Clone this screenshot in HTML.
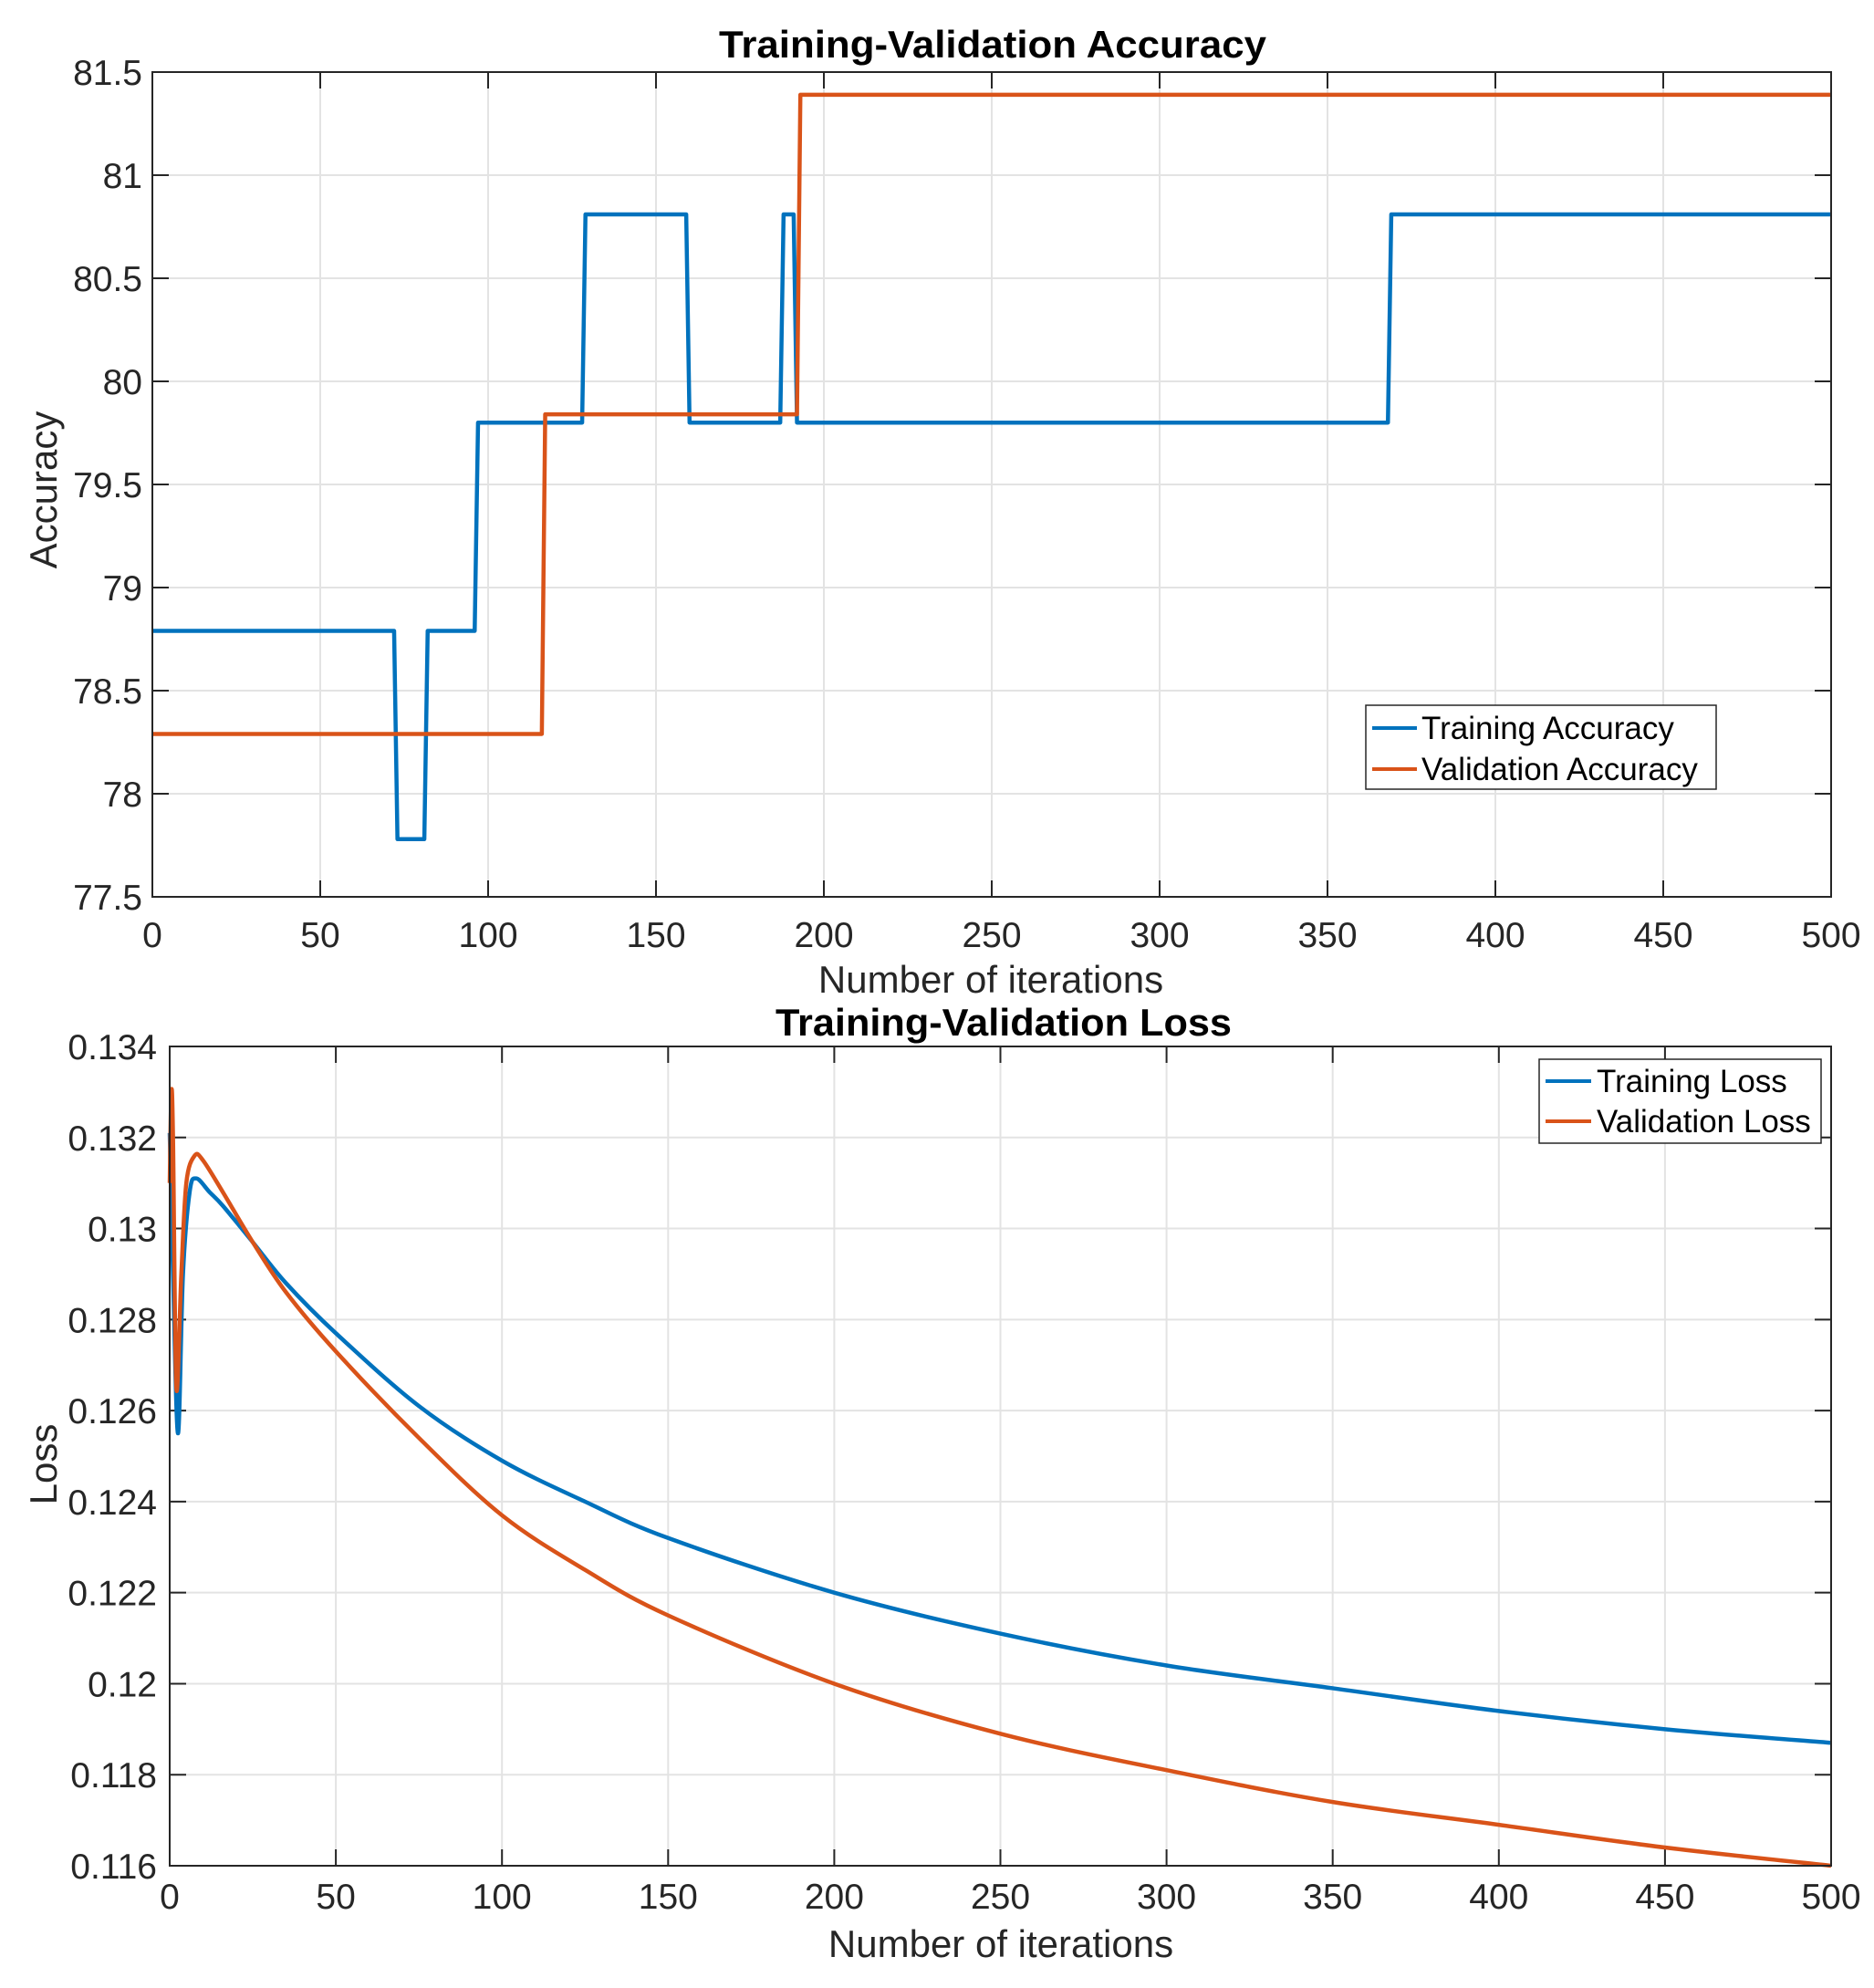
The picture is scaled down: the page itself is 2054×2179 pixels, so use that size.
<!DOCTYPE html>
<html><head><meta charset="utf-8"><style>
html,body{margin:0;padding:0;background:#fff;}
svg{display:block;}
text{font-family:"Liberation Sans",Arial,sans-serif;fill:#262626;}
</style></head><body>
<svg id="s" width="2054" height="2179" viewBox="0 0 2054 2179" xmlns="http://www.w3.org/2000/svg">
<rect width="2054" height="2179" fill="#fff"/>
<g id="g"></g>
<text x="1088" y="63" font-size="42" font-weight="bold" text-anchor="middle" style="fill:#000" textLength="600" lengthAdjust="spacingAndGlyphs">Training-Validation Accuracy</text>
<text x="1100" y="1135" font-size="42" font-weight="bold" text-anchor="middle" style="fill:#000" textLength="500" lengthAdjust="spacingAndGlyphs">Training-Validation Loss</text>
<text x="1086" y="1088" font-size="42" text-anchor="middle">Number of iterations</text>
<text x="1097" y="2145" font-size="42" text-anchor="middle">Number of iterations</text>
<text transform="translate(62,537) rotate(-90)" font-size="42" text-anchor="middle">Accuracy</text>
<text transform="translate(62,1605) rotate(-90)" font-size="42" text-anchor="middle">Loss</text>
</svg>
<script>
var NS="http://www.w3.org/2000/svg",G=document.getElementById('g');
function el(t,a,txt){var e=document.createElementNS(NS,t);for(var k in a)e.setAttribute(k,a[k]);if(txt!==undefined)e.textContent=txt;G.appendChild(e);return e;}
function axes(L,R,T,B,xmax,ymin,ymax,ystep,ylabels,lx,xly){
  var sx=function(v){return L+(R-L)*v/xmax;},sy=function(v){return B-(B-T)*(v-ymin)/(ymax-ymin);};
  for(var i=0;i<=10;i++){var x=sx(i*50);el('line',{x1:x,y1:T,x2:x,y2:B,stroke:'#e3e3e3','stroke-width':2});}
  var n=ylabels.length;
  for(var j=0;j<n;j++){var y=B-(B-T)*j/(n-1);el('line',{x1:L,y1:y,x2:R,y2:y,stroke:'#e3e3e3','stroke-width':2});}
  for(var i=0;i<=10;i++){var x=sx(i*50);
    el('line',{x1:x,y1:B,x2:x,y2:B-18,stroke:'#262626','stroke-width':2});
    el('line',{x1:x,y1:T,x2:x,y2:T+18,stroke:'#262626','stroke-width':2});
    el('text',{x:x,y:xly,'font-size':39,'text-anchor':'middle'},String(i*50));}
  for(var j=0;j<n;j++){var y=B-(B-T)*j/(n-1);
    el('line',{x1:L,y1:y,x2:L+18,y2:y,stroke:'#262626','stroke-width':2});
    el('line',{x1:R,y1:y,x2:R-18,y2:y,stroke:'#262626','stroke-width':2});
    el('text',{x:lx,y:y+14,'font-size':39,'text-anchor':'end'},ylabels[j]);}
  return [sx,sy];
}
function box(L,R,T,B){el('rect',{x:L,y:T,width:R-L,height:B-T,fill:'none',stroke:'#262626','stroke-width':2});}
var L1=167,R1=2007,T1=79,B1=983;
var f=axes(L1,R1,T1,B1,500,77.5,81.5,0.5,['77.5','78','78.5','79','79.5','80','80.5','81','81.5'],156,1038);
var sx=f[0],sy=f[1];
function steps(segs,col){var d='';segs.forEach(function(s,i){var x0=sx(s[0]),x1=sx(s[1]),y=sy(s[2]);d+=(i?'L':'M')+x0+','+y+'L'+x1+','+y;});el('path',{d:d,fill:'none',stroke:col,'stroke-width':4.5,'stroke-linejoin':'round'});}
steps([[0,72,78.79],[73,81,77.78],[82,96,78.79],[97,128,79.8],[129,159,80.81],[160,187,79.8],[188,191,80.81],[192,368,79.8],[369,500,80.81]],'#0072BD');
steps([[0,116,78.29],[117,192,79.84],[193,500,81.39]],'#D95319');
box(L1,R1,T1,B1);
el('rect',{x:1497,y:773,width:384,height:92,fill:'#fff',stroke:'#262626','stroke-width':1.5});
el('line',{x1:1504,y1:798,x2:1553,y2:798,stroke:'#0072BD','stroke-width':4});
el('line',{x1:1504,y1:843,x2:1553,y2:843,stroke:'#D95319','stroke-width':4});
el('text',{x:1558,y:810,'font-size':35,style:'fill:#000'},'Training Accuracy');
el('text',{x:1558,y:855,'font-size':35,style:'fill:#000'},'Validation Accuracy');
var L2=186,R2=2007,T2=1147,B2=2045;
var g2=axes(L2,R2,T2,B2,500,0.116,0.134,0.002,['0.116','0.118','0.12','0.122','0.124','0.126','0.128','0.13','0.132','0.134'],172,2092);
var sx2=g2[0],sy2=g2[1];
function curve(pts,col){
  var P=pts.map(function(p){return [sx2(p[0]),sy2(p[1])];});
  var d='M'+P[0][0]+','+P[0][1];
  for(var i=0;i<P.length-1;i++){
    var p0=P[Math.max(i-1,0)],p1=P[i],p2=P[i+1],p3=P[Math.min(i+2,P.length-1)];
    var c1=[p1[0]+(p2[0]-p0[0])/6,p1[1]+(p2[1]-p0[1])/6],c2=[p2[0]-(p3[0]-p1[0])/6,p2[1]-(p3[1]-p1[1])/6];
    d+='C'+c1[0]+','+c1[1]+' '+c2[0]+','+c2[1]+' '+p2[0]+','+p2[1];
  }
  el('path',{d:d,fill:'none',stroke:col,'stroke-width':4.5,'stroke-linejoin':'round'});
}
curve([[0,0.1321],[1,0.1290],[2.5,0.1255],[4,0.1290],[6,0.1308],[8,0.1311],[12,0.1308],[16,0.1305],[25,0.1297],[35,0.1288],[50,0.1277],[75,0.1261],[100,0.1249],[125,0.1240],[150,0.1232],[200,0.1220],[250,0.1211],[300,0.1204],[350,0.1199],[400,0.1194],[450,0.1190],[500,0.1187]],'#0072BD');
curve([[0,0.1310],[0.5,0.1330],[1,0.1320],[2,0.1265],[3.5,0.1290],[5,0.1310],[7.5,0.1316],[10,0.1315],[16,0.1308],[25,0.1297],[35,0.1286],[50,0.1273],[75,0.1254],[100,0.1237],[125,0.1225],[150,0.1215],[200,0.1200],[250,0.1189],[300,0.1181],[350,0.1174],[400,0.1169],[450,0.1164],[500,0.1160]],'#D95319');
box(L2,R2,T2,B2);
el('rect',{x:1687,y:1161,width:309,height:92,fill:'#fff',stroke:'#262626','stroke-width':1.5});
el('line',{x1:1694,y1:1185,x2:1744,y2:1185,stroke:'#0072BD','stroke-width':4});
el('line',{x1:1694,y1:1229,x2:1744,y2:1229,stroke:'#D95319','stroke-width':4});
el('text',{x:1750,y:1197,'font-size':35,style:'fill:#000'},'Training Loss');
el('text',{x:1750,y:1241,'font-size':35,style:'fill:#000'},'Validation Loss');
</script>
</body></html>
